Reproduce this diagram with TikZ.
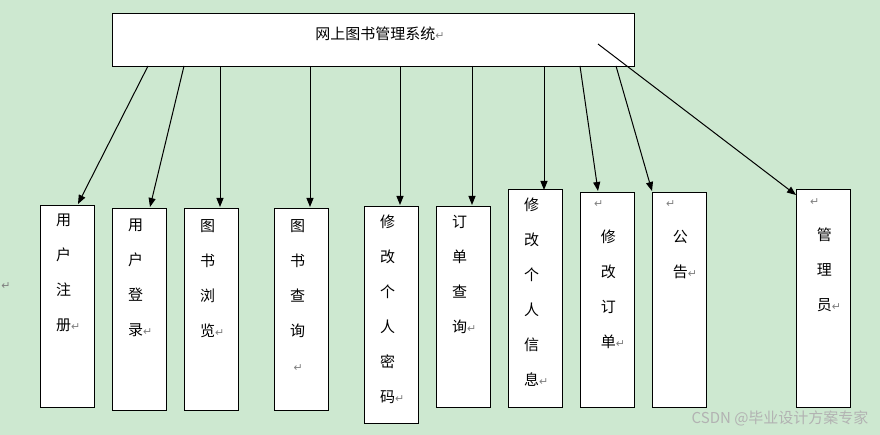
\documentclass[tikz,border=0pt]{standalone}
\usepackage{fontspec}
\newfontfamily\cjk{Noto Sans CJK SC}
\newfontfamily\dv{DejaVu Sans}
\usetikzlibrary{arrows.meta}
\definecolor{bg}{HTML}{CDE8D0}
\newcommand{\rt}{{\dv\color{gray}\fontsize{11}{11}\selectfont ↵}}
\begin{document}
\begin{tikzpicture}[x=1pt,y=-1pt,
  box/.style={draw,fill=white,line width=0.8pt},
  lab/.style={anchor=north west,align=left,inner sep=0pt,font=\cjk\fontsize{15}{35}\selectfont},
  arr/.style={-{Triangle[length=9pt,width=7pt]},line width=1pt}]
\fill[bg] (0,0) rectangle (880,435);
\useasboundingbox (0,0) rectangle (880,435);
\node[box,minimum width=522pt,minimum height=53pt,anchor=north west] (top) at (112,13) {};
\node[font=\cjk\fontsize{15}{18}\selectfont] (tt) at (380,34) {网上图书管理系统\rt};
\foreach \n/\x/\ya/\yb in {b1/40/205/407,b2/112/208/410,b3/184/208/410,b4/274/208/410,b5/364/206/423,b6/436/206/407,b7/508/189/407,b8/580/192/407,b9/652/192/407,b10/796/189/407}
  \draw[box] (\x,\ya) rectangle (\x+54,\yb) coordinate (\n);
\node[lab] (t1) at (56,214) {用\\户\\注\\册\rt};
\node[lab] (t2) at (128,219) {用\\户\\登\\录\rt};
\node[lab] (t3) at (200,219) {图\\书\\浏\\览\rt};
\node[lab] (t4) at (290,219) {图\\书\\查\\询\\ \ \rt};
\node[lab] (t5) at (380,215) {修\\改\\个\\人\\密\\码\rt};
\node[lab] (t6) at (452,215) {订\\单\\查\\询\rt};
\node[lab] (t7) at (524,198) {修\\改\\个\\人\\信\\息\rt};
\node[lab] (t8) at (594,200) {\rt\\\ \ 修\\\ \ 改\\\ \ 订\\\ \ 单\rt};
\node[lab] (t9) at (666,200) {\rt\\\ \ 公\\\ \ 告\rt};
\node[lab] (t10) at (810,198) {\rt\\\ \ 管\\\ \ 理\\\ \ 员\rt};
\node (stray) at (6,286) {\rt};
\coordinate (s1) at (148,66); \coordinate (e1) at (78,204);
\coordinate (s2) at (184,66); \coordinate (e2) at (150,207);
\coordinate (s3) at (220,66); \coordinate (e3) at (220,207);
\coordinate (s4) at (310,66); \coordinate (e4) at (310,207);
\coordinate (s5) at (400,66); \coordinate (e5) at (400,205);
\coordinate (s6) at (472,66); \coordinate (e6) at (472,205);
\coordinate (s7) at (544,66); \coordinate (e7) at (544,190);
\coordinate (s8) at (580,66); \coordinate (e8) at (598,191);
\coordinate (s9) at (616,66); \coordinate (e9) at (652,191);
\coordinate (s10) at (598,44); \coordinate (e10) at (796,195);
\foreach \i in {1,...,10} \draw[arr] (s\i) -- (e\i);
\node[anchor=south east,text=gray!60,font=\cjk\fontsize{15}{18}\selectfont] (wm) at (872,430) {CSDN @毕业设计方案专家};
\end{tikzpicture}
\end{document}
